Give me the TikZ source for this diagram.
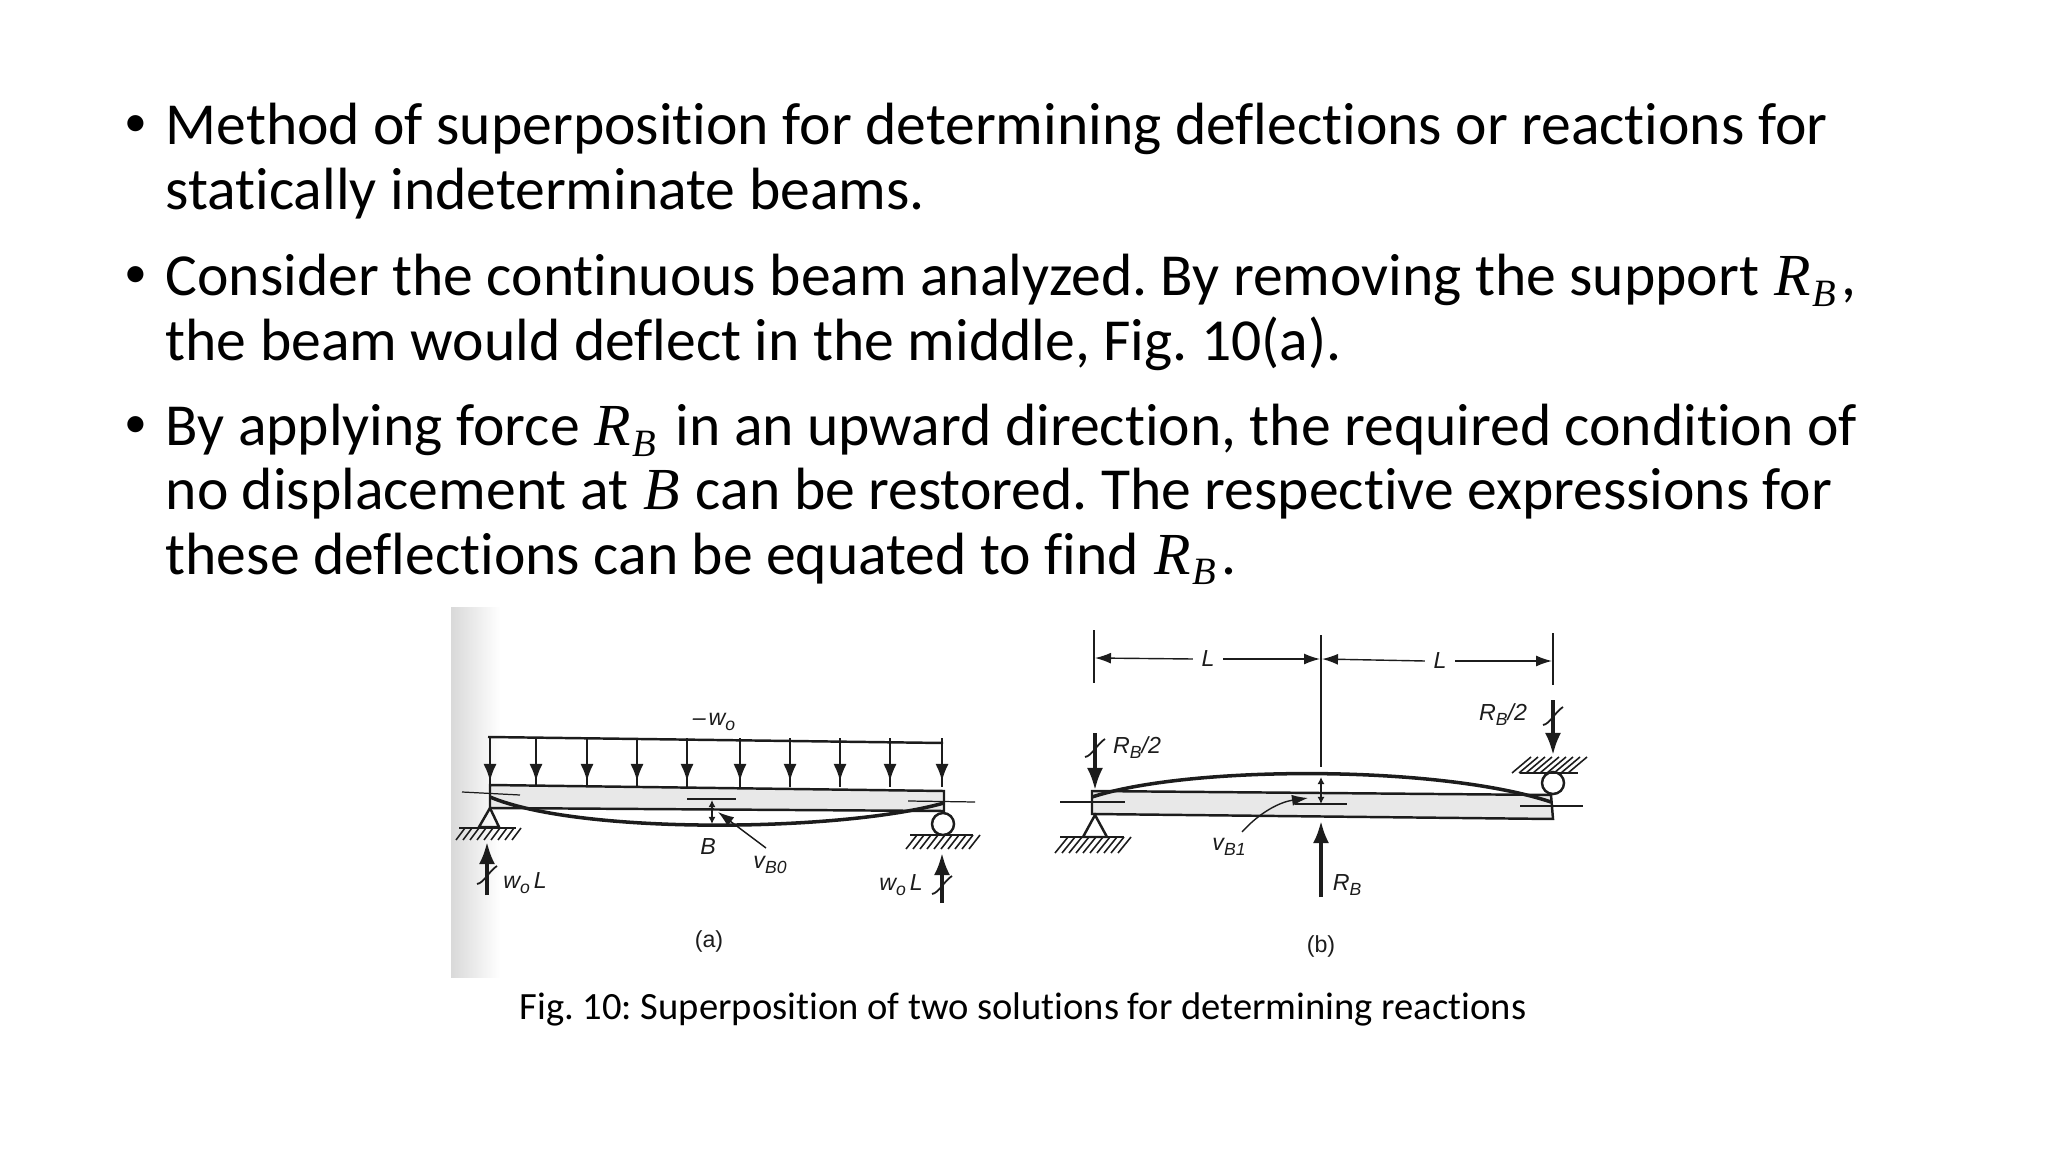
\documentclass[tikz,border=0pt]{standalone}
\usepackage{amsmath}
\usepackage{fontspec}
\setmainfont[Ligatures=NoCommon]{Carlito}
\setsansfont{Liberation Sans}
\newfontfamily\symbface{Liberation Serif}
\usetikzlibrary{arrows.meta,positioning,calc}
\frenchspacing

\definecolor{inkline}{HTML}{1C1C1C}
\definecolor{beamgrey}{HTML}{E8E8E8}

\tikzset{
    bodytext/.style={anchor=base west, inner sep=0pt, font=\fontsize{16.96}{20}\selectfont},
    bulletmark/.style={anchor=base, inner sep=0pt, font=\fontsize{13}{15}\selectfont},
    figlabel/.style={inner sep=0pt, text=inkline, font=\fontsize{6.6}{8}\sffamily\itshape\selectfont},
    figtag/.style={inner sep=0pt, text=inkline, font=\fontsize{6.6}{8}\sffamily\selectfont},
    loadarrow/.style={draw=inkline, line width=0.5pt, -{Latex[length=1.7mm,width=1.3mm]}},
    forcearrow/.style={draw=inkline, line width=1pt, -{Latex[length=2.2mm,width=1.6mm]}},
    dimarrow/.style={draw=inkline, line width=0.4pt, -{Latex[length=1.6mm,width=1.1mm]}},
    tinyarrow/.style={draw=inkline, line width=0.4pt, {Latex[length=0.7mm,width=0.7mm]}-{Latex[length=0.7mm,width=0.7mm]}},
    beamline/.style={draw=inkline, line width=0.7pt},
    thinline/.style={draw=inkline, line width=0.35pt}
}

\newcommand{\lowidx}[1]{\raisebox{-0.4ex}{\fontsize{5}{6}\selectfont #1}}
\newcommand{\symb}[1]{{\symbface\itshape\kern0.6pt #1\kern0.6pt}}
\newcommand{\RB}{{\symbface\itshape\kern0.4pt R\kern0.5pt\raisebox{-0.4ex}{\fontsize{11}{12}\selectfont B}\kern1.6pt}}
% hatching: x from, x to, y of the ground line, depth
\newcommand{\groundhatch}[4]{%
    \draw[beamline] (#1,#3) -- (#2,#3);
    \pgfmathsetmacro{\hatchnext}{#1+7}
    \foreach \hx in {#1,\hatchnext,...,#2}
        \draw[thinline, line width=0.45pt] (\hx+#4*0.5,#3) -- (\hx-#4*0.5+3,#3+#4);
}
\newcommand{\breakmark}[2]{%
    \draw[thinline, line width=0.5pt] (#1-10,#2+9) .. controls (#1-3,#2+8) and (#1+2,#2-4) .. (#1+10,#2-9);
}

\begin{document}
\begin{tikzpicture}[x=0.01cm,y=-0.01cm]
    \useasboundingbox (0,0) rectangle (2048,1152);

    % Bullet text
    \node[bulletmark] (bulletA) at (136,137) {•};
    \node[bodytext] (lineA) at (165,145) {Method of superposition for determining deflections or reactions for};
    \node[bodytext] (lineB) at (165,210) {statically indeterminate beams.};
    \node[bulletmark] (bulletB) at (136,288) {•};
    \node[bodytext] (lineC) at (165,296) {Consider the continuous beam analyzed. By removing the support \RB,};
    \node[bodytext] (lineD) at (165,361) {the beam would deflect in the middle, Fig. 10(a).};
    \node[bulletmark] (bulletC) at (136,438) {•};
    \node[bodytext] (lineE) at (165,446) {By applying force \RB{} in an upward direction, the required condition of};
    \node[bodytext] (lineF) at (165,510) {no displacement at \symb{B} can be restored. The respective expressions for};
    \node[bodytext] (lineG) at (165,574) {these deflections can be equated to find \RB.};

    % Scan edge
    \shade[left color=black!15, right color=white, draw=none] (451,608) rectangle (500,977);

    % Beam (a)
    \fill[beamgrey] (490,785) -- (944,791) -- (944,811) -- (490,808) -- cycle;
    \draw[beamline] (490,785) -- (944,791) -- (944,811) -- (490,808) -- cycle;
    \draw[thinline] (462,792) -- (520,795);
    \draw[thinline] (908,801) -- (975,802);
    \draw[thinline] (687,799) -- (736,799);
    \draw[draw=inkline, line width=1pt] (490,797) .. controls (580,835) and (840,832) .. (944,803);
    \draw[tinyarrow] (712,800) -- (712,824);

    % Load (a)
    \draw[beamline] (488,737) -- (943,743);
    \foreach \lx in {490,536,587,637,687,740,790,840,890,942} {
        \draw[loadarrow] (\lx,738) -- (\lx,781);
        \draw[loadarrow, -] (\lx,778) -- (\lx,787);
    }
    \node[figlabel] (loadA) at (714,722) {-- \kern-1pt w\lowidx{o}};

    % Supports (a)
    \draw[beamline] (490,808) -- (479,827) -- (499,827) -- cycle;
    \groundhatch{459}{516}{828}{12}
    \draw[beamline, fill=white] (943,824) circle[radius=11];
    \groundhatch{910}{973}{835}{14}

    % Reactions (a)
    \draw[forcearrow] (487,895) -- (487,842);
    \breakmark{487}{875}
    \node[figlabel] (reactAL) at (525,883) {w\lowidx{o}\,L};
    \draw[forcearrow] (942,903) -- (942,853);
    \breakmark{942}{885}
    \node[figlabel] (reactAR) at (901,885) {w\lowidx{o}\,L};

    % Labels (a)
    \node[figlabel] (pointB) at (708,847) {B};
    \node[figlabel] (deflA) at (770,865) {v\lowidx{B0}};
    \draw[dimarrow] (766,848) -- (718,812);
    \node[figtag] (tagA) at (709,941) {(a)};

    % Beam (b)
    \fill[beamgrey] (1092,791) -- (1551,795) -- (1553,819) -- (1092,814) -- cycle;
    \draw[beamline] (1092,791) -- (1551,795) -- (1553,819) -- (1092,814) -- cycle;
    \draw[thinline] (1060,802) -- (1125,802);
    \draw[thinline] (1520,806) -- (1583,806);
    \draw[thinline] (1295,804) -- (1347,804);
    \draw[draw=inkline, line width=1pt] (1092,797) .. controls (1190,765) and (1440,765) .. (1551,802);
    \draw[tinyarrow] (1321,777) -- (1321,804);

    % Dimensions (b)
    \draw[beamline] (1094,630) -- (1094,683);
    \draw[beamline] (1321,635) -- (1321,767);
    \draw[beamline] (1553,633) -- (1553,685);
    \node[figlabel] (spanL) at (1208,659) {L};
    \node[figlabel] (spanR) at (1440,661) {L};
    \draw[dimarrow] (spanL.west) ++(-8,0) -- (1095,658);
    \draw[dimarrow] (spanL.east) ++(8,0) -- (1320,659);
    \draw[dimarrow] (spanR.west) ++(-8,0) -- (1322,659);
    \draw[dimarrow] (spanR.east) ++(8,0) -- (1552,661);

    % Supports (b)
    \draw[beamline] (1095,815) -- (1083,837) -- (1107,837) -- cycle;
    \groundhatch{1060}{1124}{837}{16}
    \draw[beamline, fill=white] (1553,783) circle[radius=11];
    \groundhatch{1520}{1578}{773}{-16}

    % Forces (b)
    \draw[forcearrow] (1095,733) -- (1095,790);
    \breakmark{1095}{748}
    \node[figlabel] (halfL) at (1137,748) {R\lowidx{B}/2};
    \draw[forcearrow] (1553,700) -- (1553,755);
    \breakmark{1553}{716}
    \node[figlabel] (halfR) at (1503,715) {R\lowidx{B}/2};
    \draw[forcearrow] (1321,897) -- (1321,821);
    \node[figlabel] (reactB) at (1347,885) {R\lowidx{B}};

    % Labels (b)
    \node[figlabel] (deflB) at (1229,847) {v\lowidx{B1}};
    \draw[dimarrow] (1242,832) .. controls (1260,812) and (1280,802) .. (1308,798);
    \node[figtag] (tagB) at (1321,946) {(b)};

    % Caption
    \node[anchor=base, inner sep=0pt, font=\fontsize{10.97}{13}\selectfont] (caption) at (1023,1019)
        {Fig. 10: Superposition of two solutions for determining reactions};
\end{tikzpicture}
\end{document}
